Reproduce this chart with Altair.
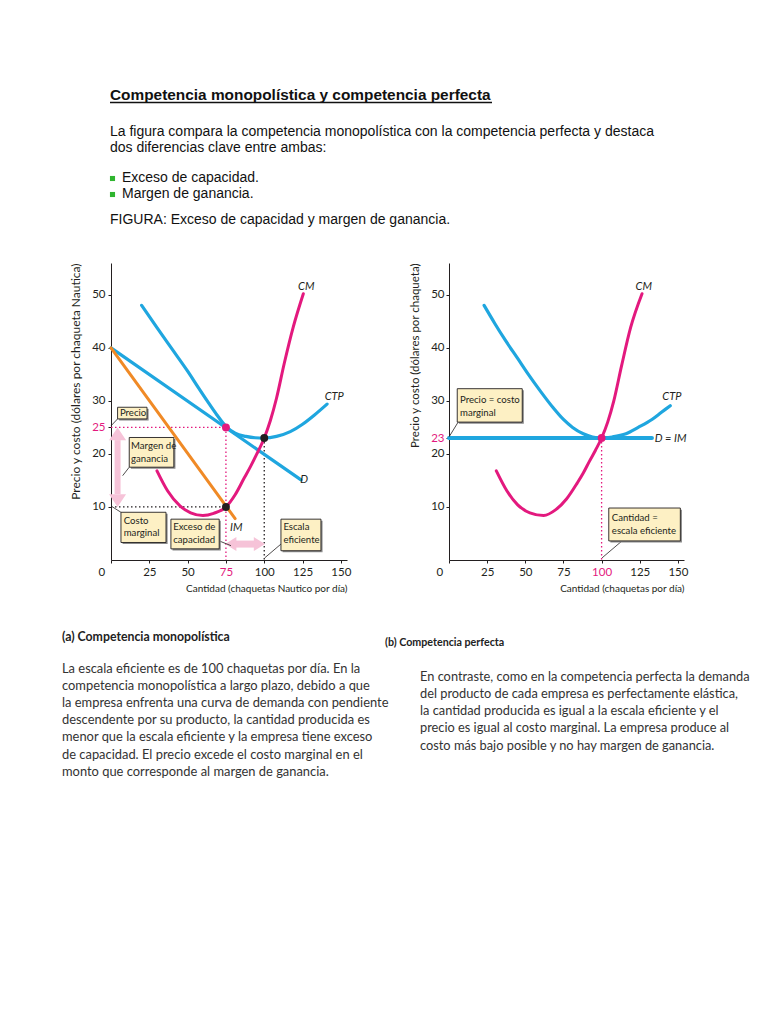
import altair as alt
import pandas as pd

# ---------------- values ----------------
x_ticks = [0, 25, 50, 75, 100, 125, 150]

# Panel (a): competencia monopolística
a_cm_x = [30, 37, 45, 52, 60, 67, 75, 81, 87, 91, 95, 100, 104, 108, 113, 119, 125.5]
a_cm_y = [16.8, 13.0, 10.2, 8.9, 8.4, 8.8, 10.0, 12.3, 15.5, 17.6, 19.9, 23.0, 26.3, 30.5, 37.0, 44.0, 50.2]
a_ctp_x = [20, 30, 40, 50, 57, 63, 69, 75, 81, 88, 94, 100, 108, 117, 125, 133, 141]
a_ctp_y = [48.0, 43.8, 39.7, 35.6, 32.5, 29.9, 27.4, 25.2, 23.9, 23.3, 23.05, 23.0, 23.3, 24.2, 25.6, 27.4, 29.4]
a_d_x = [0, 124]
a_d_y = [40, 15.1]
a_im_x = [0, 81]
a_im_y = [40, 7.8]
a_q, a_price, a_mc = 75, 25, 10
a_eff_q, a_eff_p = 100, 23
a_y_ticks = [10, 20, 25, 30, 40, 50]

# Panel (b): competencia perfecta
b_cm_x = [31, 38, 45, 53, 62, 70, 77, 84, 88, 92, 96, 100, 104, 108, 113, 119, 126.5]
b_cm_y = [16.8, 13.0, 10.4, 8.9, 8.4, 9.5, 11.5, 14.5, 16.4, 18.6, 20.7, 23.0, 26.0, 30.0, 36.5, 43.8, 50.2]
b_ctp_x = [23, 30, 37, 45, 52, 60, 68, 75, 81, 88, 94, 100, 107, 116, 124, 133, 139, 145]
b_ctp_y = [48.0, 44.6, 41.4, 38.0, 35.0, 31.8, 28.8, 26.5, 25.0, 23.8, 23.2, 23.0, 23.2, 23.8, 25.0, 26.5, 27.8, 29.1]
b_d_x = [0, 133]
b_d_y = [23, 23]
b_eff_q, b_eff_p = 100, 23
b_y_ticks = [10, 20, 23, 30, 40, 50]

# ---------------- page text ----------------
page_title = "Competencia monopolística y competencia perfecta"
intro_lines = [
    "La figura compara la competencia monopolística con la competencia perfecta y destaca",
    "dos diferencias clave entre ambas:",
]
bullet_items = ["Exceso de capacidad.", "Margen de ganancia."]
figure_caption = "FIGURA: Exceso de capacidad y margen de ganancia."
cap_a_title = "(a) Competencia monopolística"
cap_a_lines = [
    "La escala eficiente es de 100 chaquetas por día. En la",
    "competencia monopolística a largo plazo, debido a que",
    "la empresa enfrenta una curva de demanda con pendiente",
    "descendente por su producto, la cantidad producida es",
    "menor que la escala eficiente y la empresa tiene exceso",
    "de capacidad. El precio excede el costo marginal en el",
    "monto que corresponde al margen de ganancia.",
]
cap_b_title = "(b) Competencia perfecta"
cap_b_lines = [
    "En contraste, como en la competencia perfecta la demanda",
    "del producto de cada empresa es perfectamente elástica,",
    "la cantidad producida es igual a la escala eficiente y el",
    "precio es igual al costo marginal. La empresa produce al",
    "costo más bajo posible y no hay margen de ganancia.",
]

# ---------------- styles ----------------
INK = "#231f20"
BLUE = "#1fa6df"
PINK = "#e3197e"
ORANGE = "#f08a26"
BOXFILL = "#fdf0c4"
ARROW = "#f6c3d8"
FONT = "Lato"
XMAX, YMAX = 154, 56
PANEL_H = 297


def panel(width, xtitle, xtitle_size, ytitle, ytitle_size, ytitle_x, x_pink, y_ticks,
          y_pink, ylab_pad, curves, rules, arrows_v, arrows_h, leaders, boxes,
          box_texts, dots, labels):
    xs = alt.Scale(domain=[0, XMAX], nice=False, zero=False)
    ys = alt.Scale(domain=[0, YMAX], nice=False, zero=False)
    xa = alt.Axis(
        values=x_ticks, title=xtitle, grid=False, domainColor=INK, tickColor=INK,
        tickSize=3, labelFont=FONT, labelFontSize=11.5, labelPadding=3,
        labelColor={"condition": {"test": f"datum.value == {x_pink}", "value": PINK}, "value": INK},
        labelOffset={"condition": {"test": "datum.value == 0", "value": -13}, "value": 0},
        titleFont=FONT, titleFontSize=xtitle_size, titleFontWeight="normal", titleColor=INK,
        titleAlign="right", titleAnchor="end", titleX=width, titleY=28,
        titleBaseline="middle")
    ya = alt.Axis(
        values=y_ticks, title=ytitle, grid=False, domainColor=INK, tickColor=INK,
        tickSize=3, labelFont=FONT, labelFontSize=11.5, labelPadding=ylab_pad,
        labelColor={"condition": {"test": f"datum.value == {y_pink}", "value": PINK}, "value": INK},
        titleFont=FONT, titleFontSize=ytitle_size, titleFontWeight="normal", titleColor=INK,
        titleAngle=-90, titleAlign="right", titleX=ytitle_x, titleY=0,
        titleBaseline="middle")

    def X(f="x"):
        return alt.X(f"{f}:Q", scale=xs, axis=xa)

    def Y(f="y"):
        return alt.Y(f"{f}:Q", scale=ys, axis=ya)

    layers = []
    # dotted guide lines
    rdf = pd.DataFrame(rules, columns=["x", "y", "x2", "y2", "c"])
    layers.append(alt.Chart(rdf).mark_rule(strokeDash=[1.5, 2.5], strokeWidth=1.3).encode(
        x=X(), y=Y(), x2="x2:Q", y2="y2:Q", color=alt.Color("c:N", scale=None)))
    # pink double arrows
    for (ax, y1, y2) in arrows_v:
        sdf = pd.DataFrame({"x": [ax], "y": [y1 + 2.4], "y2": [y2 - 2.4]})
        layers.append(alt.Chart(sdf).mark_rule(color=ARROW, strokeWidth=6).encode(
            x=X(), y=Y(), y2="y2:Q"))
        hu = pd.DataFrame({"x": [ax], "y": [y2 - 2.4]})
        hd = pd.DataFrame({"x": [ax], "y": [y1 + 2.4]})
        layers.append(alt.Chart(hu).mark_point(shape="M-1,0L1,0L0,-1.5Z", size=289, filled=True,
                                               color=ARROW, opacity=1).encode(x=X(), y=Y()))
        layers.append(alt.Chart(hd).mark_point(shape="M-1,0L1,0L0,1.5Z", size=289, filled=True,
                                               color=ARROW, opacity=1).encode(x=X(), y=Y()))
    for (ay, x1, x2) in arrows_h:
        sdf = pd.DataFrame({"x": [x1 + 6.5], "x2": [x2 - 6.5], "y": [ay]})
        layers.append(alt.Chart(sdf).mark_rule(color=ARROW, strokeWidth=7).encode(
            x=X(), x2="x2:Q", y=Y()))
        hl = pd.DataFrame({"x": [x1 + 6.8], "y": [ay]})
        hr = pd.DataFrame({"x": [x2 - 6.8], "y": [ay]})
        layers.append(alt.Chart(hl).mark_point(shape="M0,-1L0,1L-1.6,0Z", size=196, filled=True,
                                               color=ARROW, opacity=1).encode(x=X(), y=Y()))
        layers.append(alt.Chart(hr).mark_point(shape="M0,-1L0,1L1.6,0Z", size=196, filled=True,
                                               color=ARROW, opacity=1).encode(x=X(), y=Y()))
    # curves
    for (cx, cy, col, w) in curves:
        cdf = pd.DataFrame({"x": cx, "y": cy})
        layers.append(alt.Chart(cdf).mark_line(color=col, strokeWidth=w, interpolate="monotone",
                                               strokeCap="round").encode(x=X(), y=Y()))
    # leader lines
    ldf = pd.DataFrame(leaders, columns=["x", "y", "x2", "y2"])
    layers.append(alt.Chart(ldf).mark_rule(color=INK, strokeWidth=0.8).encode(
        x=X(), y=Y(), x2="x2:Q", y2="y2:Q"))
    # label boxes
    bdf = pd.DataFrame(boxes, columns=["x", "x2", "y", "y2"])
    layers.append(alt.Chart(bdf).mark_rect(color="#8a8a8a", xOffset=1.6, x2Offset=1.6,
                                           yOffset=1.6, y2Offset=1.6).encode(
        x=X(), x2="x2:Q", y=Y(), y2="y2:Q"))
    layers.append(alt.Chart(bdf).mark_rect(fill=BOXFILL, stroke=INK, strokeWidth=0.9).encode(
        x=X(), x2="x2:Q", y=Y(), y2="y2:Q"))
    tdf = pd.DataFrame(box_texts, columns=["x", "y", "t"])
    layers.append(alt.Chart(tdf).mark_text(align="left", baseline="middle", font=FONT,
                                           fontSize=9.6, color=INK).encode(
        x=X(), y=Y(), text="t:N"))
    # points
    ddf = pd.DataFrame(dots, columns=["x", "y", "c"])
    layers.append(alt.Chart(ddf).mark_circle(size=62, opacity=1).encode(
        x=X(), y=Y(), color=alt.Color("c:N", scale=None)))
    # curve labels
    kdf = pd.DataFrame(labels, columns=["x", "y", "t", "a"])
    for a in kdf["a"].unique():
        layers.append(alt.Chart(kdf[kdf["a"] == a]).mark_text(
            align=a, baseline="middle", font=FONT, fontSize=11, fontStyle="italic",
            color=INK).encode(x=X(), y=Y(), text="t:N"))
    return alt.layer(*layers).properties(width=width, height=PANEL_H)


W_A = round(XMAX * 1.533)
W_B = round(XMAX * 1.528)

left = panel(
    W_A, "Cantidad (chaquetas Nautico por día)", 10,
    "Precio y costo (dólares por chaqueta Nautica)", 12, -36, a_q, a_y_ticks, a_price, 3,
    curves=[(a_ctp_x, a_ctp_y, BLUE, 3.2), (a_d_x, a_d_y, BLUE, 3.2),
            (a_im_x, a_im_y, ORANGE, 3.0), (a_cm_x, a_cm_y, PINK, 3.0)],
    rules=[(0, a_price, a_q, a_price, PINK), (a_q, a_price, a_q, 0, PINK),
           (0, a_mc, a_q, a_mc, INK), (a_eff_q, a_eff_p, a_eff_q, 0, INK)],
    arrows_v=[(4.3, a_mc, a_price)],
    arrows_h=[(3.0, a_q, a_eff_q)],
    leaders=[(4.3, 26.6, 0, 25.3), (11.9, 17.5, 7.6, 15.9), (6.5, 9.0, 1.0, 10.0),
             (70.6, 3.6, 78.3, 2.7), (110.9, 3.0, 100.3, 0.4)],
    boxes=[(4.3, 23.5, 26.6, 28.8), (11.9, 41.0, 17.5, 23.1), (6.5, 35.9, 3.3, 9.0),
           (39.1, 70.6, 2.1, 7.7), (110.9, 137.0, 1.75, 7.7)],
    box_texts=[(5.8, 27.7, "Precio"), (13.1, 21.5, "Margen de"), (13.1, 19.1, "ganancia"),
               (8.3, 7.4, "Costo"), (8.3, 5.0, "marginal"), (40.6, 6.3, "Exceso de"),
               (40.6, 3.7, "capacidad"), (112.5, 6.3, "Escala"), (112.5, 3.7, "eficiente")],
    dots=[(a_q, a_price, PINK), (a_q, a_mc, INK), (a_eff_q, a_eff_p, INK)],
    labels=[(127.4, 51.4, "CM", "center"), (145.7, 30.8, "CTP", "center"),
            (126.0, 15.0, "D", "center"), (81.7, 6.1, "IM", "center")],
)

right = panel(
    W_B, "Cantidad (chaquetas por día)", 10,
    "Precio y costo (dólares por chaqueta)", 11.5, -34, b_eff_q, b_y_ticks, b_eff_p, 2,
    curves=[(b_ctp_x, b_ctp_y, BLUE, 3.2), (b_d_x, b_d_y, BLUE, 4.0),
            (b_cm_x, b_cm_y, PINK, 3.0)],
    rules=[(b_eff_q, b_eff_p, b_eff_q, 0, PINK)],
    arrows_v=[], arrows_h=[],
    leaders=[(6.0, 26.0, 0.0, 23.2), (113.4, 3.6, 100.3, 0.4)],
    boxes=[(5.4, 48.0, 26.0, 32.3), (104.7, 151.6, 3.6, 9.8)],
    box_texts=[(7.2, 30.2, "Precio = costo"), (7.2, 27.7, "marginal"),
               (106.7, 8.0, "Cantidad ="), (106.7, 5.4, "escala eficiente")],
    dots=[(b_eff_q, b_eff_p, PINK)],
    labels=[(127.6, 51.4, "CM", "center"), (146.0, 30.8, "CTP", "center"),
            (134.8, 22.8, "D = IM", "left")],
)


def px_text(rows, **style):
    df = pd.DataFrame(rows, columns=["x", "y", "t"])
    return alt.Chart(df).mark_text(align="left", baseline="middle", **style).encode(
        x=alt.X("x:Q", scale=None, axis=None), y=alt.Y("y:Q", scale=None, axis=None),
        text="t:N")


HF = "Liberation Sans"
header_layers = [
    px_text([(102, 87, page_title)], font=HF, fontSize=15.4, fontWeight="bold", color="#111"),
    alt.Chart(pd.DataFrame({"x": [102], "x2": [484], "y": [94.5]})).mark_rule(
        color="#111", strokeWidth=1.3).encode(
        x=alt.X("x:Q", scale=None, axis=None), x2="x2:Q", y=alt.Y("y:Q", scale=None, axis=None)),
    px_text([(102, 124 + 16 * i, s) for i, s in enumerate(intro_lines)],
            font=HF, fontSize=14, color="#111"),
    alt.Chart(pd.DataFrame({"x": [104.5, 104.5], "y": [170.5, 186.5]})).mark_square(
        size=26, color="#2fb52f", opacity=1).encode(
        x=alt.X("x:Q", scale=None, axis=None), y=alt.Y("y:Q", scale=None, axis=None)),
    px_text([(114, 170 + 16 * i, s) for i, s in enumerate(bullet_items)],
            font=HF, fontSize=14, color="#111"),
    px_text([(102, 212, figure_caption)], font=HF, fontSize=14, color="#111"),
]
header = alt.layer(*header_layers).properties(width=752, height=254.5)


def spacer(w):
    return alt.Chart(pd.DataFrame({"v": [0]})).mark_text(text="").properties(width=w, height=PANEL_H)


row2 = alt.hconcat(spacer(103), left, spacer(449 - 111 - W_A), right,
                   spacing=0, bounds="flush")

# the footer view starts where row 2 starts (page y ~262.5); positions below are page y - 262.5
CF = "Lato"
foot_layers = [
    px_text([(54, 374, cap_a_title)], font=CF, fontSize=12.3, fontWeight="bold", color="#222"),
    px_text([(54, 405.5 + 17.2 * i, s) for i, s in enumerate(cap_a_lines)],
            font=CF, fontSize=12.9, color="#333"),
    px_text([(377, 379.5, cap_b_title)], font=CF, fontSize=10.7, fontWeight="bold", color="#222"),
    px_text([(412, 413.5 + 17.3 * i, s) for i, s in enumerate(cap_b_lines)],
            font=CF, fontSize=12.8, color="#333"),
]
footer = alt.layer(*foot_layers).properties(width=752, height=540)

chart = alt.vconcat(header, row2, footer, spacing=0, bounds="flush").properties(
    padding=0, background="white"
).configure_view(strokeWidth=0)

chart.save("out.html", embed_options={"renderer": "svg", "actions": False})
